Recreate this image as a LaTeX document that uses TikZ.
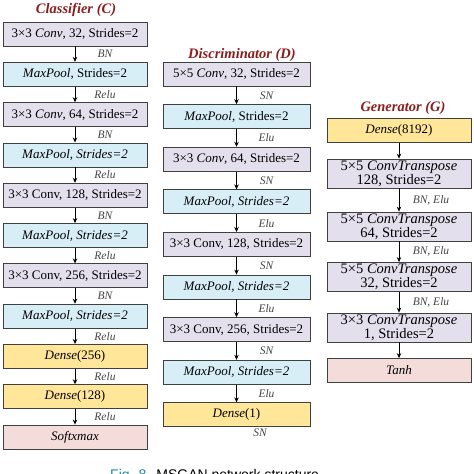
\documentclass[tikz,border=0pt]{standalone}
\usepackage{fontspec}
\setmainfont{Liberation Serif}
\newfontfamily\capfont{Liberation Sans}
\usetikzlibrary{arrows.meta}
\definecolor{cpurple}{HTML}{E4DFEC}
\definecolor{cblue}{HTML}{D8EEF7}
\definecolor{cyellow}{HTML}{FFE699}
\definecolor{cpink}{HTML}{F4DCDB}
\definecolor{ctitle}{HTML}{8C1D1D}
\definecolor{clabel}{HTML}{454545}
\definecolor{cteal}{HTML}{1C8C9C}
\tikzset{
  layer/.style={draw=black!75, line width=0.8pt, inner sep=0pt, align=center,
    minimum height=24pt, font=\fontsize{13}{12.5}\selectfont},
  cw/.style={minimum width=144pt},
  dw/.style={minimum width=147pt},
  pbox/.style={layer, fill=cpurple},
  bbox/.style={layer, fill=cblue},
  ybox/.style={layer, fill=cyellow},
  kbox/.style={layer, fill=cpink},
  tall/.style={minimum height=29pt, font=\fontsize{14.5}{12.5}\selectfont},
  ttl/.style={font=\fontsize{14.5}{16}\selectfont\bfseries\itshape, text=ctitle},
  lbl/.style={font=\fontsize{11.5}{12}\selectfont\itshape, text=clabel, xshift=30pt},
  arr/.style={-{Stealth[length=5pt,width=4.5pt]}, line width=0.8pt, black}
}
\begin{document}
\begin{tikzpicture}[x=1pt,y=-1pt]
\useasboundingbox (0,0) rectangle (474,474);
\clip (0,0) rectangle (474,474);
\fill[white] (0,0) rectangle (474,474);
% Classifier
\node[ttl] (ct) at (76,10) {Classifier (C)};
\node[pbox,cw] (c1) at (75,34) {3×3 \textit{Conv}, 32, Strides=2};
\node[bbox,cw] (c2) at (75,74.3) {\textit{MaxPool}, Strides=2};
\node[pbox,cw] (c3) at (75,114.6) {3×3 \textit{Conv}, 64, Strides=2};
\node[bbox,cw] (c4) at (75,154.9) {\textit{MaxPool, Strides=2}};
\node[pbox,cw] (c5) at (75,195.2) {3×3 Conv, 128, Strides=2};
\node[bbox,cw] (c6) at (75,235.5) {\textit{MaxPool, Strides=2}};
\node[pbox,cw] (c7) at (75,275.8) {3×3 Conv, 256, Strides=2};
\node[bbox,cw] (c8) at (75,316.1) {\textit{MaxPool, Strides=2}};
\node[ybox,cw] (c9) at (75,356.4) {\textit{Dense}(256)};
\node[ybox,cw] (c10) at (75,396.7) {\textit{Dense}(128)};
\node[kbox,cw] (c11) at (75,437) {\textit{Softxmax}};
\draw[arr] (c1) -- node[lbl]{BN} (c2);
\draw[arr] (c2) -- node[lbl]{Relu} (c3);
\draw[arr] (c3) -- node[lbl]{BN} (c4);
\draw[arr] (c4) -- node[lbl]{Relu} (c5);
\draw[arr] (c5) -- node[lbl]{BN} (c6);
\draw[arr] (c6) -- node[lbl]{Relu} (c7);
\draw[arr] (c7) -- node[lbl]{BN} (c8);
\draw[arr] (c8) -- node[lbl]{Relu} (c9);
\draw[arr] (c9) -- node[lbl]{Relu} (c10);
\draw[arr] (c10) -- node[lbl]{Relu} (c11);
% Discriminator
\node[ttl] (dt) at (242,55) {Discriminator (D)};
\node[pbox,dw] (d1) at (236.5,74) {5×5 \textit{Conv}, 32, Strides=2};
\node[bbox,dw] (d2) at (236.5,116.6) {\textit{MaxPool}, Strides=2};
\node[pbox,dw] (d3) at (236.5,159.2) {3×3 \textit{Conv}, 64, Strides=2};
\node[bbox,dw] (d4) at (236.5,201.8) {\textit{MaxPool, Strides=2}};
\node[pbox,dw] (d5) at (236.5,244.4) {3×3 Conv, 128, Strides=2};
\node[bbox,dw] (d6) at (236.5,287) {\textit{MaxPool, Strides=2}};
\node[pbox,dw] (d7) at (236.5,329.6) {3×3 Conv, 256, Strides=2};
\node[bbox,dw] (d8) at (236.5,372.2) {\textit{MaxPool, Strides=2}};
\node[ybox,dw] (d9) at (236.5,414.8) {\textit{Dense}(1)};
\draw[arr] (d1) -- node[lbl]{SN} (d2);
\draw[arr] (d2) -- node[lbl]{Elu} (d3);
\draw[arr] (d3) -- node[lbl]{SN} (d4);
\draw[arr] (d4) -- node[lbl]{Elu} (d5);
\draw[arr] (d5) -- node[lbl]{SN} (d6);
\draw[arr] (d6) -- node[lbl]{Elu} (d7);
\draw[arr] (d7) -- node[lbl]{SN} (d8);
\draw[arr] (d8) -- node[lbl]{Elu} (d9);
\node[lbl,xshift=-30pt] (dsn) at (260,433) {SN};
% Generator
\node[ttl] (gt) at (403,108) {Generator (G)};
\node[ybox,cw] (g1) at (399,130.5) {\textit{Dense}(8192)};
\node[pbox,cw,tall] (g2) at (399,173.5) {5×5 \textit{ConvTranspose}\\128, Strides=2};
\node[pbox,cw,tall] (g3) at (399,226.5) {5×5 \textit{ConvTranspose}\\64, Strides=2};
\node[pbox,cw,tall] (g4) at (399,277) {5×5 \textit{ConvTranspose}\\32, Strides=2};
\node[pbox,cw,tall] (g5) at (399,327.5) {3×3 \textit{ConvTranspose}\\1, Strides=2};
\node[kbox,cw] (g6) at (399,370.5) {\textit{Tanh}};
\draw[arr] (g1) -- (g2);
\draw[arr] (g2) -- node[lbl,xshift=2pt]{BN, Elu} (g3);
\draw[arr] (g3) -- node[lbl,xshift=2pt]{BN, Elu} (g4);
\draw[arr] (g4) -- node[lbl,xshift=2pt]{BN, Elu} (g5);
\draw[arr] (g5) -- (g6);
% Caption (cut off at the bottom edge, as in the reference)
\node[anchor=north west, inner sep=0pt, font=\capfont\fontsize{14}{16}\selectfont] (cap) at (110,469.5)
  {\textcolor{cteal}{Fig. 8.}\hspace{6pt}MSGAN network structure};
\end{tikzpicture}
\end{document}
